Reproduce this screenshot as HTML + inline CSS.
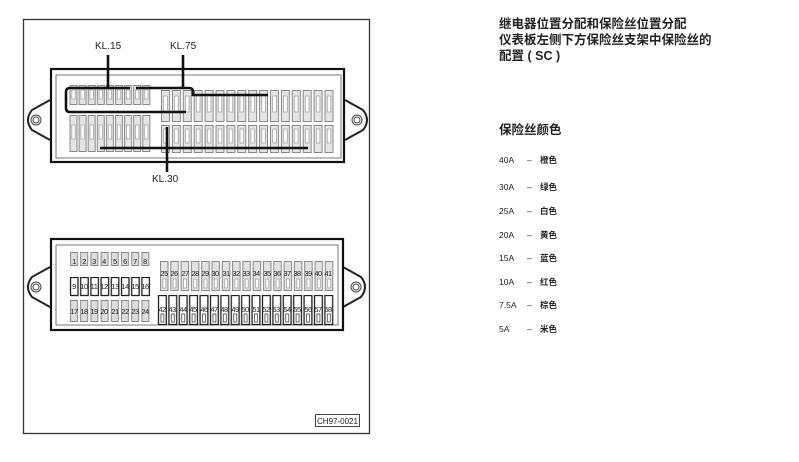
<!DOCTYPE html>
<html><head><meta charset="utf-8"><style>
body{margin:0;background:#fff;width:799px;height:462px;overflow:hidden}
svg{position:absolute;left:0;top:0}
.t{font-family:"Liberation Sans","Noto Sans CJK SC",sans-serif;fill:#222}
</style></head><body>
<svg width="799" height="462" viewBox="0 0 799 462">
<defs>
<pattern id="a1" x="69" y="85" width="9.1" height="21" patternUnits="userSpaceOnUse"><rect x="1" y="0.5" width="7" height="19" fill="#e4e4e4" stroke="#888"/><rect x="2.8" y="5" width="3.4" height="9" fill="#fff" stroke="#999" stroke-width="0.7"/></pattern>
<pattern id="a2" x="69" y="115" width="9.1" height="38" patternUnits="userSpaceOnUse"><rect x="1" y="0.5" width="7" height="36" fill="#e4e4e4" stroke="#888"/><rect x="2.8" y="10" width="3.4" height="14" fill="#fff" stroke="#999" stroke-width="0.7"/></pattern>
<pattern id="a3" x="160" y="90" width="10.9" height="33" patternUnits="userSpaceOnUse"><rect x="1.5" y="0.5" width="8" height="31" fill="#e4e4e4" stroke="#888"/><rect x="3.7" y="6" width="3.6" height="16" fill="#fff" stroke="#999" stroke-width="0.7"/></pattern>
<pattern id="a4" x="160" y="125" width="10.9" height="29" patternUnits="userSpaceOnUse"><rect x="1.5" y="0.5" width="8" height="27" fill="#e4e4e4" stroke="#888"/><rect x="3.7" y="4" width="3.6" height="14" fill="#fff" stroke="#999" stroke-width="0.7"/></pattern>
<pattern id="b1" x="69" y="252" width="10.2" height="15" patternUnits="userSpaceOnUse"><rect x="1.5" y="0.5" width="7" height="13" fill="#ddd" stroke="#888"/></pattern>
<pattern id="b2" x="69" y="277" width="10.2" height="20" patternUnits="userSpaceOnUse"><rect x="1.5" y="0.5" width="7.5" height="18" fill="#fff" stroke="#222" stroke-width="1.3"/></pattern>
<pattern id="b3" x="69" y="300" width="10.2" height="23" patternUnits="userSpaceOnUse"><rect x="1.5" y="0.5" width="7" height="21" fill="#ddd" stroke="#888"/></pattern>
<pattern id="b4" x="159" y="261" width="10.3" height="31" patternUnits="userSpaceOnUse"><rect x="1.5" y="0.5" width="7.5" height="29" fill="#e2e2e2" stroke="#888"/><rect x="3.8" y="18" width="3" height="9" fill="#fff" stroke="#999" stroke-width="0.7"/></pattern>
<pattern id="b5" x="157" y="295" width="10.4" height="31" patternUnits="userSpaceOnUse"><rect x="1.5" y="0.5" width="7.8" height="29" fill="#fff" stroke="#222" stroke-width="1.3"/><rect x="3.9" y="19" width="3" height="8" fill="#fff" stroke="#444" stroke-width="0.8"/></pattern>
</defs>
<rect x="23.5" y="19.5" width="346" height="414" fill="none" stroke="#333" stroke-width="1.3"/>
<g fill="none" stroke="#222" stroke-width="2">
<path d="M50 100 L32 110 Q24 120 32 130 L50 140"/>
<path d="M345 100 L363 110 Q371 120 363 130 L345 140"/>
<path d="M50 267 L32 277 Q24 287 32 297 L50 307"/>
<path d="M343 267 L361 277 Q369 287 361 297 L343 307"/>
</g>
<g fill="none" stroke="#444" stroke-width="1">
<circle cx="36" cy="120" r="5"/><circle cx="36" cy="120" r="3"/>
<circle cx="357" cy="120" r="5"/><circle cx="357" cy="120" r="3"/>
<circle cx="36" cy="287" r="5"/><circle cx="36" cy="287" r="3"/>
<circle cx="356" cy="287" r="5"/><circle cx="356" cy="287" r="3"/>
</g>
<rect x="51" y="69" width="293" height="93" fill="#fff" stroke="#111" stroke-width="2.2"/>
<rect x="56" y="75" width="285" height="83" fill="none" stroke="#777" stroke-width="1"/>
<rect x="51" y="239" width="292" height="91" fill="#fff" stroke="#111" stroke-width="2.2"/>
<rect x="56" y="245" width="282" height="80" fill="none" stroke="#777" stroke-width="1"/>
<rect x="69" y="85" width="82" height="21" fill="url(#a1)"/>
<rect x="69" y="115" width="82" height="38" fill="url(#a2)"/>
<rect x="160" y="90" width="175" height="33" fill="url(#a3)"/>
<rect x="160" y="125" width="175" height="29" fill="url(#a4)"/>
<g fill="none" stroke="#111" stroke-width="2.6">
<path d="M108 55 V88 M130 88 H70 Q66 88 66 92 V108 Q66 112 70 112 H186"/>
<path d="M183 55 V88 M136 88 H189 Q193 88 193 92 V95 H268"/>
<path d="M100 148 H308 M167 127 V172"/>
</g>
<text class="t" x="95" y="49" font-size="10">KL.15</text>
<text class="t" x="170" y="49" font-size="10">KL.75</text>
<text class="t" x="152" y="182" font-size="10">KL.30</text>
<rect x="69" y="252" width="82" height="15" fill="url(#b1)"/>
<rect x="69" y="277" width="82" height="20" fill="url(#b2)"/>
<rect x="69" y="300" width="82" height="23" fill="url(#b3)"/>
<rect x="159" y="261" width="175" height="31" fill="url(#b4)"/>
<rect x="157" y="295" width="177" height="31" fill="url(#b5)"/>
<g class="t" font-size="7.5" letter-spacing="-0.5" text-anchor="middle" fill="#222">
<text x="74" y="264">1</text><text x="84" y="264">2</text><text x="94" y="264">3</text><text x="104" y="264">4</text><text x="115" y="264">5</text><text x="125" y="264">6</text><text x="135" y="264">7</text><text x="145" y="264">8</text>
<text x="74" y="289">9</text><text x="84" y="289">10</text><text x="94" y="289">11</text><text x="104" y="289">12</text><text x="115" y="289">13</text><text x="125" y="289">14</text><text x="135" y="289">15</text><text x="145" y="289">16</text>
<text x="74" y="314">17</text><text x="84" y="314">18</text><text x="94" y="314">19</text><text x="104" y="314">20</text><text x="115" y="314">21</text><text x="125" y="314">22</text><text x="135" y="314">23</text><text x="145" y="314">24</text>
<text x="164" y="276">25</text><text x="174" y="276">26</text><text x="185" y="276">27</text><text x="195" y="276">28</text><text x="205" y="276">29</text><text x="215" y="276">30</text><text x="226" y="276">31</text><text x="236" y="276">32</text><text x="246" y="276">33</text><text x="256" y="276">34</text><text x="267" y="276">35</text><text x="277" y="276">36</text><text x="287" y="276">37</text><text x="297" y="276">38</text><text x="308" y="276">39</text><text x="318" y="276">40</text><text x="328" y="276">41</text>
<text x="162" y="312">42</text><text x="172" y="312">43</text><text x="183" y="312">44</text><text x="193" y="312">45</text><text x="204" y="312">46</text><text x="214" y="312">47</text><text x="224" y="312">48</text><text x="235" y="312">49</text><text x="245" y="312">50</text><text x="256" y="312">51</text><text x="266" y="312">52</text><text x="276" y="312">53</text><text x="287" y="312">54</text><text x="297" y="312">55</text><text x="308" y="312">56</text><text x="318" y="312">57</text><text x="328" y="312">58</text>
</g>
<rect x="315.5" y="414.5" width="44" height="12" fill="#fff" stroke="#444"/>
<text class="t" x="337.5" y="424" font-size="8" text-anchor="middle">CH97-0021</text>
<g class="t" font-size="12.5" font-weight="bold">
<text x="499" y="28">继电器位置分配和保险丝位置分配</text>
<text x="499" y="44">仪表板左侧下方保险丝支架中保险丝的</text>
<text x="499" y="60">配置 ( SC )</text>
<text x="499" y="134">保险丝颜色</text>
</g>
<g class="t" font-size="8.5">
<text x="499" y="163">40A</text><text x="527" y="163">–</text><text x="540" y="163" font-weight="bold">橙色</text>
<text x="499" y="190">30A</text><text x="527" y="190">–</text><text x="540" y="190" font-weight="bold">绿色</text>
<text x="499" y="214">25A</text><text x="527" y="214">–</text><text x="540" y="214" font-weight="bold">白色</text>
<text x="499" y="238">20A</text><text x="527" y="238">–</text><text x="540" y="238" font-weight="bold">黄色</text>
<text x="499" y="261">15A</text><text x="527" y="261">–</text><text x="540" y="261" font-weight="bold">蓝色</text>
<text x="499" y="285">10A</text><text x="527" y="285">–</text><text x="540" y="285" font-weight="bold">红色</text>
<text x="499" y="308">7.5A</text><text x="527" y="308">–</text><text x="540" y="308" font-weight="bold">棕色</text>
<text x="499" y="332">5A</text><text x="527" y="332">–</text><text x="540" y="332" font-weight="bold">米色</text>
</g>
</svg>
</body></html>
